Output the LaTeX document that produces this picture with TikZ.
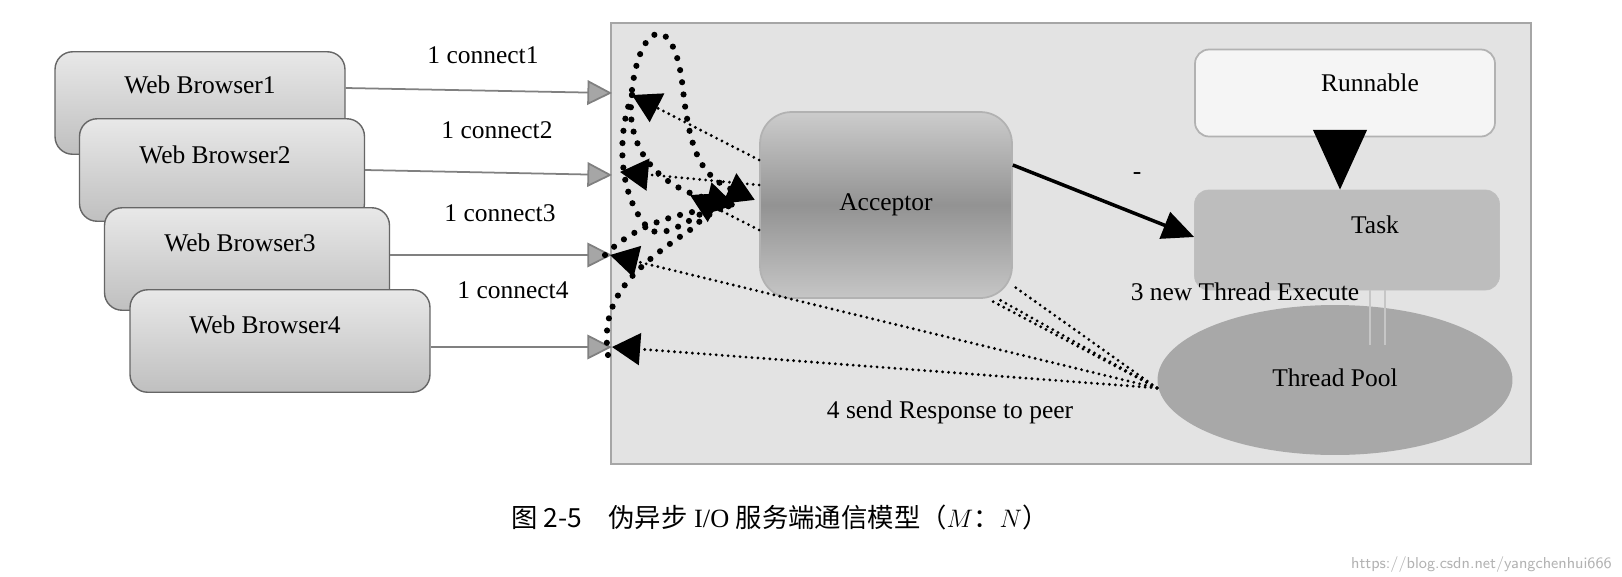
\documentclass[tikz,border=0pt]{standalone}
\usepackage{fontspec}
\setmainfont{Liberation Serif}
\newfontfamily\cjk{Noto Sans CJK SC}
\usetikzlibrary{arrows.meta,shapes.geometric}
\begin{document}
\begin{tikzpicture}[x=0.02cm,y=-0.02cm,
  browser/.style={draw=gray!80!black,rounded corners=10pt,top color=gray!18,bottom color=gray!50,line width=0.8pt,minimum height=2.05cm},
  lbl/.style={font=\fontsize{14.5}{17}\selectfont},
  conn/.style={gray,line width=1pt,-{Triangle[length=14pt,width=14pt,fill=gray!70]}},
  dot/.style={black,line width=1.8pt,dash pattern=on 0pt off 3.4pt,line cap=round},
  thickdot/.style={black,line width=3.5pt,dash pattern=on 0pt off 7pt,line cap=round},
  bighead/.style={-{Triangle[length=16pt,width=18pt]}}]
\useasboundingbox (0,0) rectangle (1622,576);
\fill[white] (0,0) rectangle (1622,576);
% server panel
\node[draw=gray!70,fill=gray!22,line width=1pt,minimum width=18.4cm,minimum height=8.82cm,anchor=north west] (srv) at (610,22) {};
% browsers
\node[browser,minimum width=5.8cm] (b1) at (200,103) {};
\node[lbl] at (200,85) {Web Browser1};
\node[browser,minimum width=5.7cm] (b2) at (222,170) {};
\node[lbl] at (215,155) {Web Browser2};
\node[browser,minimum width=5.7cm] (b3) at (247,259) {};
\node[lbl] at (240,243) {Web Browser3};
\node[browser,minimum width=6.0cm] (b4) at (280,341) {};
\node[lbl] at (265,325) {Web Browser4};
% connection targets
\coordinate (t1) at (612,93);
\coordinate (t2) at (612,175);
\coordinate (t3) at (612,255);
\coordinate (t4) at (612,347);
\draw[conn] (b1.east |- 0,88) -- (t1);
\draw[conn] (b2.east |- 0,170) -- (t2);
\draw[conn] (b3.east |- 0,255) -- (t3);
\draw[conn] (b4.east |- 0,347) -- (t4);
\node[lbl] at (483,55) {1 connect1};
\node[lbl] at (497,130) {1 connect2};
\node[lbl] at (500,213) {1 connect3};
\node[lbl] at (513,290) {1 connect4};
% acceptor
\node[draw=gray!60,rounded corners=18pt,top color=gray!40,bottom color=gray!45,middle color=gray!85,minimum width=5.04cm,minimum height=3.72cm,line width=1pt,lbl] (acc) at (886,205) {Acceptor};
% runnable, task
\node[draw=gray!60,rounded corners=8pt,fill=gray!8,minimum width=6cm,minimum height=1.74cm,line width=1pt] (run) at (1345,93) {};
\node[lbl] at (1370,83) {Runnable};
\node[draw=gray!50,rounded corners=8pt,fill=gray!52,minimum width=6.1cm,minimum height=2cm] (task) at (1347,240) {};
\node[lbl] at (1375,225) {Task};
\draw[black,line width=3pt,-{Triangle[length=34pt,width=30pt]}] (run.south -| 1340,0) -- (task.north -| 1340,0);
\draw[black,line width=2pt,-{Triangle[length=18pt,width=16pt]}] (acc.east |- 0,165) -- (task.west |- 0,237);
\node[lbl] at (1245,292) {3 new Thread Execute};
\node[lbl] at (1137,176) {-};
% thread pool
\node[ellipse,fill=gray!68,minimum width=7.1cm,minimum height=3cm] (pool) at (1335,380) {};
\node[lbl] at (1335,378) {Thread Pool};
\draw[gray!45,line width=1.2pt] (1370,290) -- (1370,345) (1385,290) -- (1385,345);
\node[lbl] at (950,412) {4 send Response to peer};
% dotted responses
\coordinate (pl) at (1157,388);
\draw[dot,bighead] (acc.west |- 0,160) -- (632,95);
\draw[dot,bighead] (acc.west |- 0,185) -- (620,172);
\draw[dot,bighead] (acc.west |- 0,230) -- (690,195);
\draw[dot,bighead] (pl) -- (610,255);
\draw[dot,bighead] (pl) -- (612,347);
\draw[dot] (pl) -- (1000,300);
\draw[dot] (pl) -- (1012,285);
\draw[dot] (pl) -- (990,300);
% thick dotted curves to acceptor
\draw[thickdot,bighead] (632,90) .. controls (640,20) and (675,10) .. (683,90) .. controls (690,150) and (700,175) .. (755,200);
\draw[thickdot,bighead] (632,95) .. controls (625,140) and (650,185) .. (735,205);
\draw[thickdot] (632,95) .. controls (615,140) and (620,200) .. (650,230) .. controls (670,240) and (700,210) .. (720,205);
\draw[thickdot] (605,255) .. controls (640,220) and (690,210) .. (740,205);
\draw[thickdot] (608,355) .. controls (600,300) and (630,270) .. (690,230) .. controls (700,220) and (720,205) .. (740,203);
% caption
\node[font=\fontsize{15}{18}\selectfont] at (780,517) {{\cjk 图 2-5\quad 伪异步} I/O {\cjk 服务端通信模型（}$M${\cjk ：}$N${\cjk ）}};
\node[font=\fontsize{9}{11}\selectfont\sffamily,text=gray!60,anchor=east] at (1618,565) {https://blog.csdn.net/yangchenhui666};
\end{tikzpicture}
\end{document}
